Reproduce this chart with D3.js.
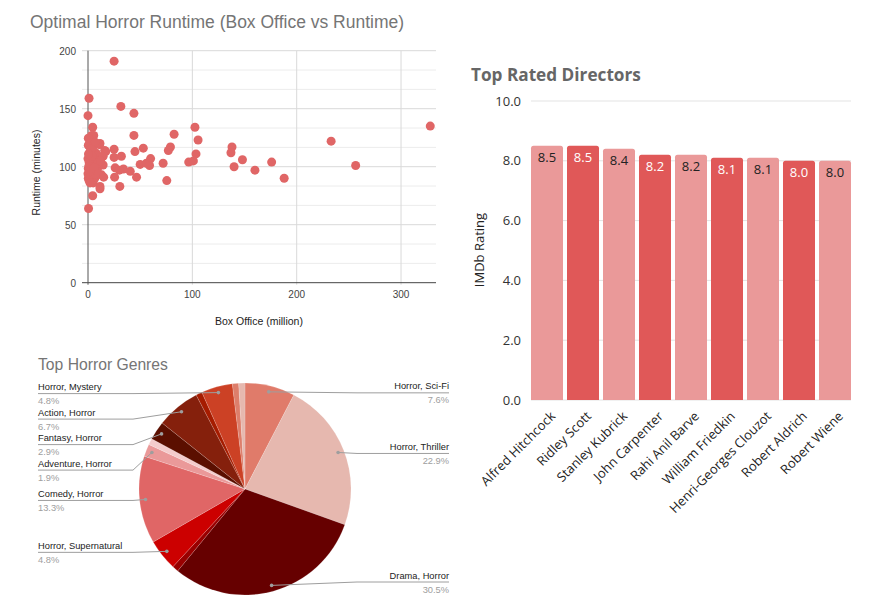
<!DOCTYPE html>
<html>
<head>
<meta charset="utf-8">
<script src="https://cdn.jsdelivr.net/npm/d3@7"></script>
<style>
  html, body { margin: 0; padding: 0; background: #ffffff; }
  svg { display: block; }
</style>
</head>
<body>
<svg id="chart" width="872" height="614"></svg>
<script>
// ---------------- DATA ----------------
// Scatter: box office (million) vs runtime (minutes)
const boxOffice = [
  25, 1, 0, 31.5, 44, 4.5, 102.5, 328, 82.5, 44, 5.5, 105.5, 233, 1.5, 138, 79, 53, 11, 137, 45,
  77, 103.5, 25, 25, 32, 17, 14, 60, 148, 72, 96.5, 101, 176, 256.5, 140, 50, 56, 59, 26, 34,
  30, 40.5, 160, 188, 46.5, 25.5, 75.5, 30.5, 11.5, 4.5, 0.5,
  3.5, 0.3, 11.5, 0.3, 5, 16, 2, 8, 14.5, 0, 6.5, 2, 14.5, 10, 0.3, 0, 5, 13, 0.3, 6.5,
  5, 11.5, 1, 3, 1, 2, 4, 7, 3, 9, 1, 2, 8, 12, 0.5, 6, 10, 15
];
const runtime = [
  191, 159, 144, 152, 146, 134, 134, 135, 128, 127, 127, 123, 122, 124, 117, 117, 116, 119, 112, 113,
  114, 111, 115, 108, 109, 113, 109, 107, 106, 103, 104, 105, 104, 101, 100, 102, 103, 101, 99, 98,
  97, 96, 97, 90, 91, 91, 88, 83, 81, 75, 64,
  127, 124.5, 120, 118.5, 117, 114, 113, 111.5, 109, 107, 106, 103, 101.5, 100, 98.5, 94, 95.5, 93, 90, 90,
  86, 83, 104, 100, 88, 96, 109, 121, 115, 103, 101, 86, 97, 105, 111, 99, 94, 91
];
const scatterXTicks = [0, 100, 200, 300];
const scatterYTicks = [0, 50, 100, 150, 200];

// Pie: genre counts (clockwise from 12 o'clock)
const genres = [
  "Horror, Sci-Fi", "Horror, Thriller", "Drama, Horror", "Crime, Horror", "Horror, Supernatural",
  "Comedy, Horror", "Adventure, Horror", "Horror, Romance", "Fantasy, Horror", "Action, Horror",
  "Horror, Western", "Horror, Mystery", "Animation, Horror", "Horror, Musical"
];
const genreCounts = [8, 24, 32, 1, 5, 14, 2, 1, 3, 7, 1, 5, 1, 1];
const genreColors = [
  "#e07b6a", "#e6b8af", "#660000", "#990000", "#cc0000",
  "#e06666", "#ea9999", "#f4cccc", "#5b0f00", "#85200c",
  "#a61c00", "#cc4125", "#dd7e6b", "#e6b8af"
];

// Bars: top rated directors
const directors = [
  "Alfred Hitchcock", "Ridley Scott", "Stanley Kubrick", "John Carpenter", "Rahi Anil Barve",
  "William Friedkin", "Henri-Georges Clouzot", "Robert Aldrich", "Robert Wiene"
];
const ratings = [8.5, 8.5, 8.4, 8.2, 8.2, 8.1, 8.1, 8.0, 8.0];
const ratingTicks = [0, 2, 4, 6, 8, 10];

// ---------------- DRAW ----------------
const svg = d3.select("#chart");
const arialF = "'Liberation Sans', Arial, sans-serif";
const openF = "'Open Sans', 'Noto Sans', sans-serif";

// ===== Scatter =====
(function () {
  const g = svg.append("g");
  const x = d3.scaleLinear().domain([0, 333.5]).range([88, 436]);
  const y = d3.scaleLinear().domain([0, 200]).range([282.7, 50.7]);

  g.append("text").attr("x", 30).attr("y", 28)
    .attr("font-family", arialF).attr("font-size", 17.5).attr("fill", "#757575")
    .text("Optimal Horror Runtime (Box Office vs Runtime)");

  // minor horizontal gridlines (thirds)
  const minor = [];
  for (let i = 0; i < scatterYTicks.length - 1; i++) {
    const a = scatterYTicks[i], b = scatterYTicks[i + 1];
    minor.push(a + (b - a) / 3, a + 2 * (b - a) / 3);
  }
  g.selectAll(".minor").data(minor).join("line")
    .attr("x1", 82).attr("x2", 436)
    .attr("y1", d => y(d)).attr("y2", d => y(d))
    .attr("stroke", "#ececec").attr("stroke-width", 1);
  g.selectAll(".hgrid").data(scatterYTicks.filter(d => d > 0)).join("line")
    .attr("x1", 82).attr("x2", 436)
    .attr("y1", d => y(d)).attr("y2", d => y(d))
    .attr("stroke", "#d9d9d9").attr("stroke-width", 1);
  g.selectAll(".vgrid").data(scatterXTicks.filter(d => d > 0)).join("line")
    .attr("x1", d => x(d)).attr("x2", d => x(d))
    .attr("y1", y(200)).attr("y2", y(0) + 2)
    .attr("stroke", "#d9d9d9").attr("stroke-width", 1);
  // axes
  g.append("line").attr("x1", 82).attr("x2", 436).attr("y1", y(0)).attr("y2", y(0))
    .attr("stroke", "#444").attr("stroke-width", 1);
  g.append("line").attr("x1", x(0)).attr("x2", x(0)).attr("y1", y(200)).attr("y2", y(0) + 2)
    .attr("stroke", "#555").attr("stroke-width", 1);

  g.selectAll(".ytl").data(scatterYTicks).join("text")
    .attr("x", 76).attr("y", d => y(d) + 4)
    .attr("text-anchor", "end").attr("font-family", arialF).attr("font-size", 10)
    .attr("fill", "#444").text(d => d);
  g.selectAll(".xtl").data(scatterXTicks).join("text")
    .attr("x", d => x(d)).attr("y", 297.5)
    .attr("text-anchor", "middle").attr("font-family", arialF).attr("font-size", 10)
    .attr("fill", "#444").text(d => d);

  g.append("text").attr("x", 259).attr("y", 325)
    .attr("text-anchor", "middle").attr("font-family", arialF).attr("font-size", 10.5)
    .attr("fill", "#222").text("Box Office (million)");
  g.append("text").attr("transform", "translate(39.5,172.5) rotate(-90)")
    .attr("text-anchor", "middle").attr("font-family", arialF).attr("font-size", 10.5)
    .attr("fill", "#222").text("Runtime (minutes)");

  const pts = boxOffice.map((b, i) => ({ b, r: runtime[i] }));
  g.selectAll(".pt").data(pts).join("circle")
    .attr("cx", d => x(d.b)).attr("cy", d => y(d.r)).attr("r", 4.5)
    .attr("fill", "#e06666");
})();

// ===== Pie =====
(function () {
  const g = svg.append("g");
  const cx = 245, cy = 489, R = 106;
  g.append("text").attr("x", 38).attr("y", 370)
    .attr("font-family", arialF).attr("font-size", 15.7).attr("fill", "#757575")
    .text("Top Horror Genres");

  const total = d3.sum(genreCounts);
  const data = genres.map((name, i) => ({ name, v: genreCounts[i], color: genreColors[i] }));
  const pie = d3.pie().value(d => d.v).sort(null);
  const arcs = pie(data);
  const arc = d3.arc().innerRadius(0).outerRadius(R);
  const pg = g.append("g").attr("transform", `translate(${cx},${cy})`);
  pg.selectAll("path").data(arcs).join("path")
    .attr("d", arc).attr("fill", d => d.data.color)
    .attr("stroke", "#ffffff").attr("stroke-width", 0.25).attr("stroke-opacity", 0.6);

  const pct = d3.format(".1%");
  const labeled = arcs.filter(a => a.data.v / total > 0.015).map(a => {
    const mid = (a.startAngle + a.endAngle) / 2;
    return {
      a, mid,
      dx: cx + 100 * Math.sin(mid), dy: cy - 100 * Math.cos(mid),
      side: Math.sin(mid) >= 0 ? "right" : "left"
    };
  });
  ["left", "right"].forEach(side => {
    const list = labeled.filter(l => l.side === side).sort((p, q) => p.dy - q.dy);
    let prev = -Infinity;
    list.forEach(l => {
      l.ly = Math.min(Math.max(l.dy + 1, prev + 25.5), cy + 93);
      prev = l.ly;
    });
  });
  labeled.forEach(l => {
    const left = l.side === "left";
    const tx = left ? 38 : 449;
    const bx = left ? cx - (R + 6) : cx + (R + 6);
    const bend = left ? Math.min(bx, l.dx) : Math.max(bx, l.dx);
    g.append("polyline")
      .attr("points", `${tx},${l.ly} ${bend},${l.ly} ${l.dx},${l.dy}`)
      .attr("fill", "none").attr("stroke", "#9e9e9e").attr("stroke-width", 1);
    g.append("circle").attr("cx", l.dx).attr("cy", l.dy).attr("r", 1.8).attr("fill", "#9e9e9e");
    g.append("text").attr("x", tx).attr("y", l.ly - 3.5)
      .attr("text-anchor", left ? "start" : "end")
      .attr("font-family", arialF).attr("font-size", 9.3).attr("fill", "#222")
      .text(l.a.data.name);
    g.append("text").attr("x", tx).attr("y", l.ly + 10.5)
      .attr("text-anchor", left ? "start" : "end")
      .attr("font-family", arialF).attr("font-size", 9.3).attr("fill", "#9e9e9e")
      .text(pct(l.a.data.v / total));
  });
})();

// ===== Bars =====
(function () {
  const g = svg.append("g");
  const x = d3.scaleBand().domain(directors).range([531, 851]).paddingInner(0.111).paddingOuter(0);
  const y = d3.scaleLinear().domain([0, 10]).range([400, 101]);

  g.append("text").attr("x", 471).attr("y", 81)
    .attr("font-family", openF).attr("font-weight", 700).attr("font-size", 17.2).attr("fill", "#666")
    .text("Top Rated Directors");

  g.selectAll(".grid").data(ratingTicks).join("line")
    .attr("x1", 531).attr("x2", 851)
    .attr("y1", d => y(d)).attr("y2", d => y(d))
    .attr("stroke", "#e3e3e3").attr("stroke-width", 1);
  g.selectAll(".ytl").data(ratingTicks).join("text")
    .attr("x", 521).attr("y", d => y(d) + 4.5)
    .attr("text-anchor", "end").attr("font-family", openF).attr("font-size", 13)
    .attr("fill", "#333").text(d => d3.format(".1f")(d));
  g.append("text").attr("transform", "translate(484,250) rotate(-90)")
    .attr("text-anchor", "middle").attr("font-family", openF).attr("font-size", 13)
    .attr("fill", "#222").text("IMDb Rating");

  const bw = x.bandwidth(), rr = 2.5;
  const barColor = i => (i % 2 === 0 ? "#ea9999" : "#e05858");
  g.selectAll(".bar").data(directors).join("path")
    .attr("d", (d, i) => {
      const x0 = x(d), x1 = x0 + bw, top = y(ratings[i]), bot = y(0);
      return `M${x0},${bot} L${x0},${top + rr} Q${x0},${top} ${x0 + rr},${top} L${x1 - rr},${top} Q${x1},${top} ${x1},${top + rr} L${x1},${bot} Z`;
    })
    .attr("fill", (d, i) => barColor(i));
  g.selectAll(".val").data(directors).join("text")
    .attr("x", d => x(d) + bw / 2).attr("y", (d, i) => y(ratings[i]) + 16)
    .attr("text-anchor", "middle").attr("font-family", openF).attr("font-size", 13)
    .attr("fill", (d, i) => (i % 2 === 0 ? "#222" : "#ffffff"))
    .text((d, i) => d3.format(".1f")(ratings[i]));
  g.selectAll(".xl").data(directors).join("text")
    .attr("transform", d => `translate(${x(d) + bw / 2 + 9},${417}) rotate(-45)`)
    .attr("text-anchor", "end").attr("font-family", openF).attr("font-size", 13)
    .attr("fill", "#222").text(d => d);
})();
</script>
</body>
</html>
